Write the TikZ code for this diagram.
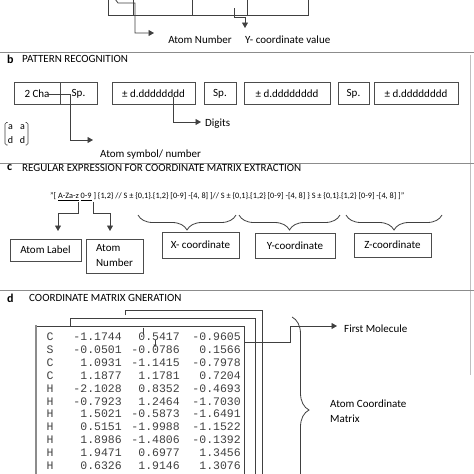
\documentclass[tikz,border=0pt]{standalone}
\usepackage{fontspec}
\setmainfont{Carlito}
\newfontfamily\monofont{Liberation Mono}
\usepackage{graphicx}
\usetikzlibrary{arrows.meta,decorations.pathreplacing,calc}
\tikzset{
  line/.style={draw=black!75, line width=0.8pt},
  arr/.style={line, -{Triangle[length=5.5pt,width=6pt]}},
  box/.style={draw=black!70, line width=0.8pt, inner sep=0pt},
  lbl/.style={font=\fontsize{11}{15}\selectfont, inner sep=0pt, text=black},
  hdr/.style={font=\fontsize{11}{13}\selectfont, inner sep=0pt, anchor=west, text=black},
  sec/.style={font=\fontsize{12}{14}\selectfont\bfseries, inner sep=0pt, anchor=west},
  sep/.style={draw=black!45, line width=1pt},
  mono/.style={font=\monofont\fontsize{11.5}{13}\selectfont, inner sep=0pt, text=black!75},
  brc/.style={line, decorate},
}
\begin{document}
\begin{tikzpicture}[x=1pt,y=-1pt]
\useasboundingbox (0,0) rectangle (474,474);
\fill[white] (0,0) rectangle (474,474);
\clip (0,0) rectangle (474,474);

% ---------------- section a (cut off) ----------------
\draw[line] (108,-2) -- (108,15) -- (308,15) -- (308,-2);
\draw[line] (133,-2) -- (133,15);
\draw[line] (192,-2) -- (192,15);
\draw[line] (247,-2) -- (247,15);
\node[lbl] (an) at (200,40) {Atom Number};
\node[lbl, anchor=west] (yc) at (245,40) {Y- coordinate value};
\coordinate (a1s) at (115,-1);
\coordinate (a1e) at (154,33);
\draw[arr] (a1s) -- (118,3) -- (135,3) -- (135,33) -- (a1e);
\coordinate (a2s) at (234,8);
\coordinate (a2e) at (245,28);
\draw[arr] (a2s) -- (234,17) -- (245,17) -- (a2e);

\draw[sep] (0,52) -- (474,52);
\draw[draw=black!25, line width=0.8pt] (470,55) -- (470,375);

% ---------------- section b ----------------
\node[sec] (lb) at (7,59) {b};
\node[hdr] (hb) at (22,59) {PATTERN RECOGNITION};
\node[box, lbl, minimum width=46pt, minimum height=22pt] (b1) at (37,93.5) {2 Cha};
\node[box, lbl, minimum width=37pt, minimum height=22pt] (b2) at (78.5,93.5) {Sp.};
\node[box, lbl, minimum width=83pt, minimum height=22pt] (b3) at (153.5,93.5) {± d.dddddddd};
\node[box, lbl, minimum width=32pt, minimum height=22pt] (b4) at (220,93.5) {Sp.};
\node[box, lbl, minimum width=86pt, minimum height=22pt] (b5) at (287,93.5) {± d.dddddddd};
\node[box, lbl, minimum width=31pt, minimum height=22pt] (b6) at (353.5,93.5) {Sp.};
\node[box, lbl, minimum width=84pt, minimum height=22pt] (b7) at (416,93.5) {± d.dddddddd};

\node[lbl, anchor=west] (asn) at (100,155) {Atom symbol/ number};
\node[lbl, anchor=west] (dg) at (205,124) {Digits};
\coordinate (p1) at (48,94);
\coordinate (p1e) at (93,140);
\draw[arr] (p1) -- (70,94) -- (70,140) -- (p1e);
\coordinate (p2) at (173,97);
\coordinate (p2e) at (201,122);
\draw[arr] (p2) -- (173,122) -- (p2e);

% small matrix glyph
\node[lbl, font=\fontsize{10}{12}\selectfont] (m11) at (10.5,127) {a};
\node[lbl, font=\fontsize{10}{12}\selectfont] (m12) at (22.5,127) {a};
\node[lbl, font=\fontsize{10}{12}\selectfont] (m21) at (10.5,140) {d};
\node[lbl, font=\fontsize{10}{12}\selectfont] (m22) at (22.5,140) {d};
\draw[line, line width=0.6pt, rounded corners=1.5pt] (7.5,122.5) -- (5,122.5) -- (5,145) -- (7.5,145);
\draw[line, line width=0.6pt, rounded corners=1.5pt] (25.5,122.5) -- (28,122.5) -- (28,145) -- (25.5,145);

\draw[sep] (0,163.5) -- (474,163.5);

% ---------------- section c ----------------
\node[sec] (lc) at (7,168) {c};
\node[hdr] (hc) at (22,168) {REGULAR EXPRESSION FOR COORDINATE MATRIX EXTRACTION};
\node[anchor=west, inner sep=0pt, text=black, font=\fontsize{7}{8}\selectfont] (rx) at (50,197)
  {\resizebox{354pt}{!}{"[ \underline{A-Za-z} \underline{0-9} ] \{1,2\} // S ± \{0,1\}.\{1,2\} [0-9] -[4, 8] ]// S ± \{0,1\}.\{1,2\} [0-9] -[4, 8] \} S ± \{0,1\}.\{1,2\} [0-9] -[4, 8] ]"}};

\node[box, lbl, minimum width=71pt, minimum height=22pt] (al) at (45.5,250) {Atom Label};
\node[box, lbl, minimum width=57pt, minimum height=34pt, align=left] (anb) at (114.5,256) {Atom\\Number};
\node[box, lbl, minimum width=77pt, minimum height=26pt] (xc) at (200.5,245) {X- coordinate};
\node[box, lbl, minimum width=80pt, minimum height=25pt] (ycb) at (295,245.5) {Y-coordinate};
\node[box, lbl, minimum width=77pt, minimum height=24pt] (zc) at (392.5,245) {Z-coordinate};

\coordinate (r1) at (78,202);
\coordinate (r1e) at (58,231);
\draw[arr] (r1) -- (78,213) -- (58,213) -- (r1e);
\coordinate (r2) at (93,202);
\coordinate (r2e) at (110,231);
\draw[arr] (r2) -- (93,213) -- (110,213) -- (r2e);

\draw[brc, decoration={brace, mirror, amplitude=15pt}] (138,215) -- (236,215);
\draw[brc, decoration={brace, mirror, amplitude=15pt}] (239,215) -- (340,215);
\draw[brc, decoration={brace, mirror, amplitude=15pt}] (346,215) -- (442,215);

\draw[sep] (0,290) -- (474,290);

% ---------------- section d ----------------
\node[sec] (ld) at (7,298) {d};
\node[hdr] (hd) at (29,298) {COORDINATE MATRIX GNERATION};

% stacked frames
\draw[line] (125,315) -- (125,310) -- (262,310) -- (262,480);
\draw[line] (70,326) -- (70,318) -- (255,318) -- (255,480);
\draw[line] (36,326) -- (244,326) -- (244,480);
\draw[draw=black!45, line width=2pt] (36,325) -- (36,480);

\foreach \ea/\eb/\ec/\ed [count=\i from 0] in {
  C/-1.1744/0.5417/-0.9605,
  S/-0.0501/-0.0786/0.1566,
  C/1.0931/-1.1415/-0.7978,
  C/1.1877/1.1781/0.7204,
  H/-2.1028/0.8352/-0.4693,
  H/-0.7923/1.2464/-1.7030,
  H/1.5021/-0.5873/-1.6491,
  H/0.5151/-1.9988/-1.1522,
  H/1.8986/-1.4806/-0.1392,
  H/1.9471/0.6977/1.3456,
  H/0.6326/1.9146/1.3076,
  H/1.4483/1.4581/0.1488}{
  \pgfmathsetmacro\yy{337+12.85*\i}
  \node[mono] (e\i) at (50,\yy) {\ea};
  \node[mono, anchor=east] (x\i) at (122,\yy) {\eb};
  \node[mono, anchor=east] (y\i) at (180,\yy) {\ec};
  \node[mono, anchor=east] (z\i) at (241,\yy) {\ed};
}
\coordinate (t1) at (143,327.5);
\coordinate (t1e) at (143,335);
\draw[line, line width=0.6pt] (t1) -- (t1e);
\coordinate (t2) at (155,340);
\coordinate (t2e) at (155,347);
\draw[line, line width=0.6pt, -{Triangle[length=2.5pt,width=3pt]}] (t2) -- (t2e);

% first molecule connector
\node[lbl, anchor=west] (fm) at (344,329) {First Molecule};
\coordinate (fm0) at (244,342);
\coordinate (fme) at (337,326);
\draw[arr] (fm0) -- (290,342) -- (290,326) -- (fme);

% big brace
\draw[brc, decoration={brace, amplitude=17pt}] (292,317) -- (292,503);
\node[lbl, anchor=west, align=left] (acm) at (330,411.5) {Atom Coordinate\\Matrix};
\end{tikzpicture}
\end{document}
